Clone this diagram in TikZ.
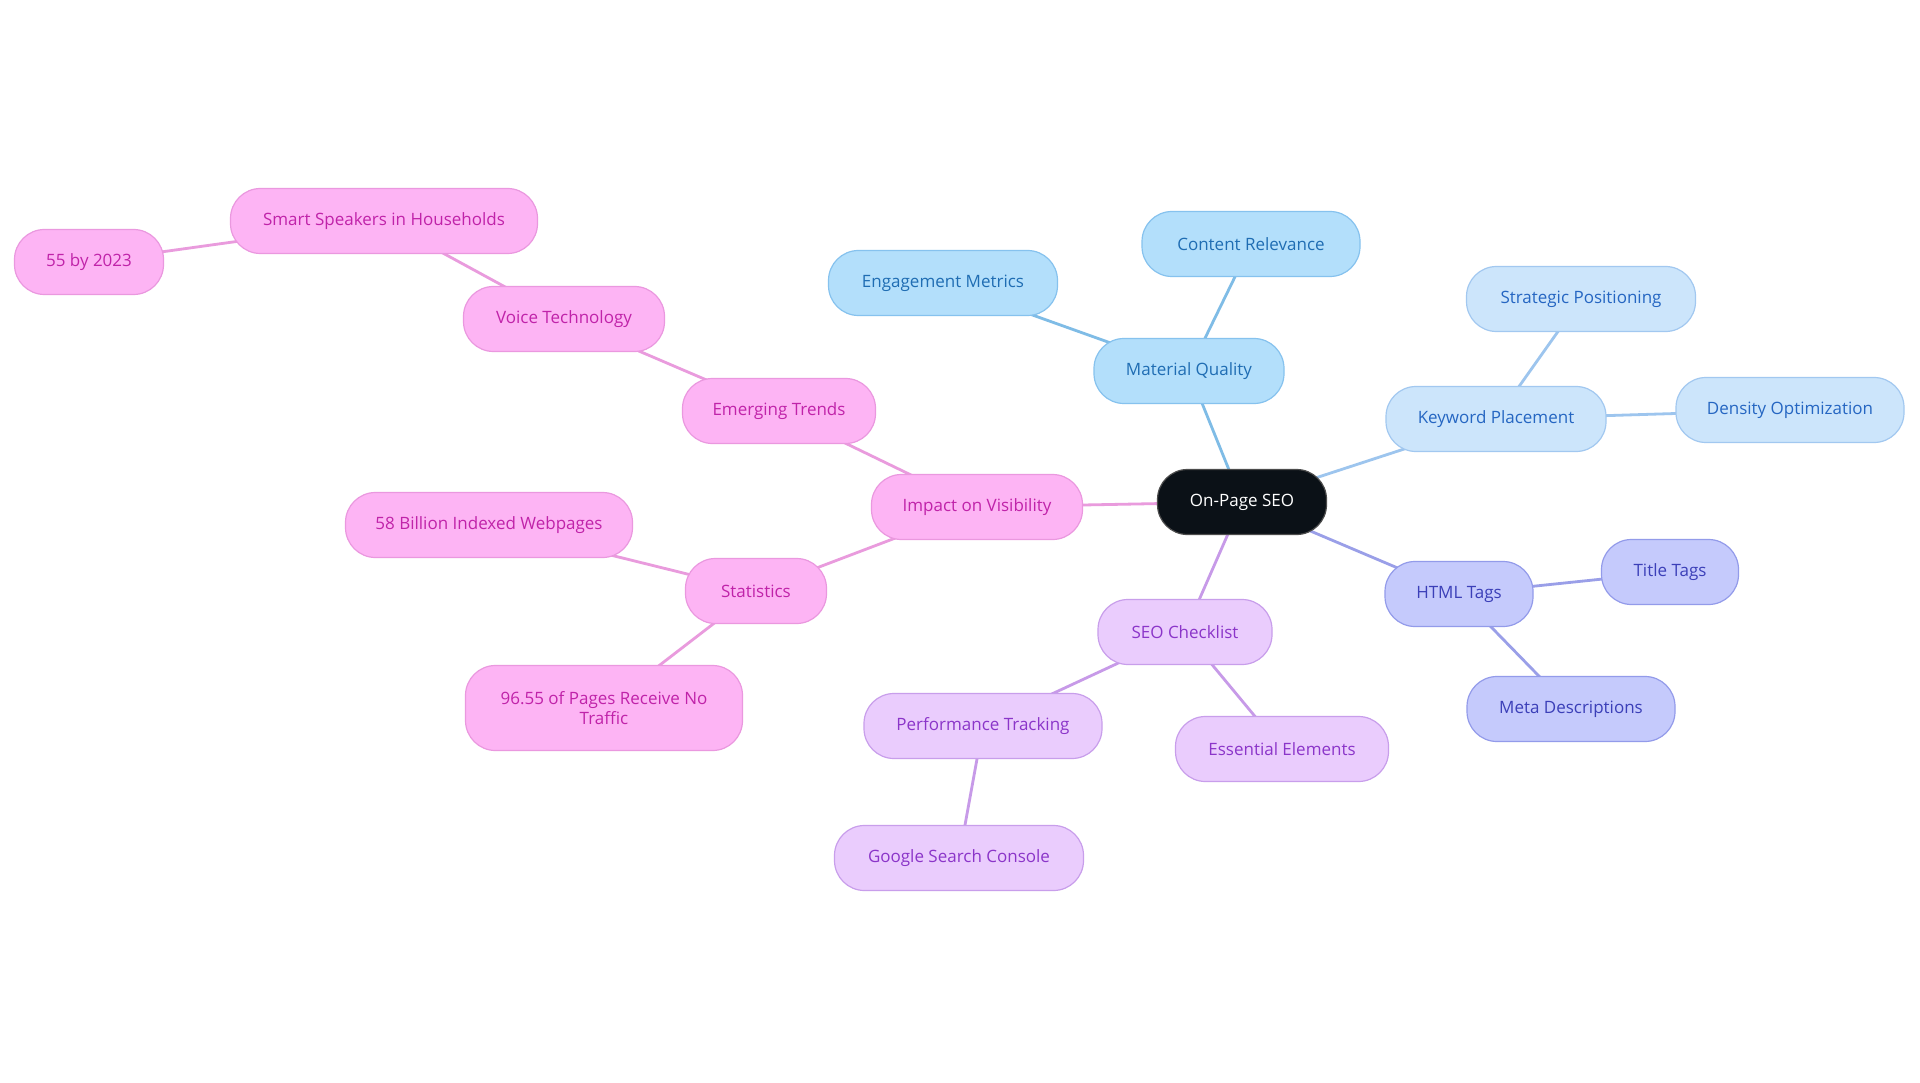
\documentclass[tikz,border=0pt]{standalone}
\usepackage{fontspec}
\setmainfont{Open Sans}
\usetikzlibrary{backgrounds}
\definecolor{mqfill}{HTML}{B3DFFB}\definecolor{mqdraw}{HTML}{86C2EE}\definecolor{mqtext}{HTML}{1F6DB3}\definecolor{mqline}{HTML}{7FBCE6}
\definecolor{kpfill}{HTML}{CCE5FB}\definecolor{kpdraw}{HTML}{A2C8F0}\definecolor{kptext}{HTML}{2566C2}\definecolor{kpline}{HTML}{9DC5EE}
\definecolor{htfill}{HTML}{C5CAFC}\definecolor{htdraw}{HTML}{939BEA}\definecolor{httext}{HTML}{3B3FB8}\definecolor{htline}{HTML}{9A9FE8}
\definecolor{scfill}{HTML}{EACCFD}\definecolor{scdraw}{HTML}{C89EEB}\definecolor{sctext}{HTML}{8B35C9}\definecolor{scline}{HTML}{C79AE8}
\definecolor{imfill}{HTML}{FDB4F4}\definecolor{imdraw}{HTML}{EA98DF}\definecolor{imtext}{HTML}{C023A9}\definecolor{imline}{HTML}{E99BDD}
\definecolor{rootfill}{HTML}{0B1117}
\tikzset{
  pill/.style={rectangle, rounded corners=30pt, minimum height=65pt, line width=1.2pt, inner sep=0pt, align=center, font=\fontsize{17}{19.5}\selectfont},
  rootnode/.style={pill, fill=rootfill, draw=gray!60!black, text=white},
  mq/.style={pill, fill=mqfill, draw=mqdraw, text=mqtext},
  kp/.style={pill, fill=kpfill, draw=kpdraw, text=kptext},
  ht/.style={pill, fill=htfill, draw=htdraw, text=httext},
  sc/.style={pill, fill=scfill, draw=scdraw, text=sctext},
  im/.style={pill, fill=imfill, draw=imdraw, text=imtext},
  link/.style={line width=2.8pt},
}
\begin{document}
\begin{tikzpicture}[x=1pt,y=-1pt]
\useasboundingbox (0,0) rectangle (1920,1083);
\node[rootnode, minimum width=169pt] (root) at (1242,502) {On-Page SEO};
\node[mq, minimum width=190pt] (mq) at (1189,371) {Material Quality};
\node[mq, minimum width=218pt] (cr) at (1251,244) {Content Relevance};
\node[mq, minimum width=229pt] (em) at (943,283) {Engagement Metrics};
\node[kp, minimum width=220pt] (kp) at (1496,419) {Keyword Placement};
\node[kp, minimum width=229pt] (sp) at (1581,299) {Strategic Positioning};
\node[kp, minimum width=228pt] (do) at (1790,410) {Density Optimization};
\node[ht, minimum width=148pt] (ht) at (1459,594) {HTML Tags};
\node[ht, minimum width=137pt] (tt) at (1670,572) {Title Tags};
\node[ht, minimum width=208pt] (md) at (1571,709) {Meta Descriptions};
\node[sc, minimum width=174pt] (sc) at (1185,632) {SEO Checklist};
\node[sc, minimum width=238pt] (pt) at (983,726) {Performance Tracking};
\node[sc, minimum width=213pt] (ee) at (1282,749) {Essential Elements};
\node[sc, minimum width=249pt] (gsc) at (959,858) {Google Search Console};
\node[im, minimum width=211pt] (iv) at (977,507) {Impact on Visibility};
\node[im, minimum width=193pt] (et) at (779,411) {Emerging Trends};
\node[im, minimum width=201pt] (vt) at (564,319) {Voice Technology};
\node[im, minimum width=307pt] (ss) at (384,221) {Smart Speakers in Households};
\node[im, minimum width=149pt] (n55) at (89,262) {55 by 2023};
\node[im, minimum width=141pt] (st) at (756,591) {Statistics};
\node[im, minimum width=287pt] (sb) at (489,525) {58 Billion Indexed Webpages};
\node[im, minimum width=277pt, minimum height=85pt] (np) at (604,708) {96.55 of Pages Receive No\\Traffic};
\begin{scope}[on background layer]
\fill[white] (0,0) rectangle (1920,1083);
\draw[link, mqline] (root.center) -- (mq.center);
\draw[link, mqline] (mq.center) -- (cr.center);
\draw[link, mqline] (mq.center) -- (em.center);
\draw[link, kpline] (root.center) -- (kp.center);
\draw[link, kpline] (kp.center) -- (sp.center);
\draw[link, kpline] (kp.center) -- (do.center);
\draw[link, htline] (root.center) -- (ht.center);
\draw[link, htline] (ht.center) -- (tt.center);
\draw[link, htline] (ht.center) -- (md.center);
\draw[link, scline] (root.center) -- (sc.center);
\draw[link, scline] (sc.center) -- (pt.center);
\draw[link, scline] (sc.center) -- (ee.center);
\draw[link, scline] (pt.center) -- (gsc.center);
\draw[link, imline] (root.center) -- (iv.center);
\draw[link, imline] (iv.center) -- (et.center);
\draw[link, imline] (et.center) -- (vt.center);
\draw[link, imline] (vt.center) -- (ss.center);
\draw[link, imline] (ss.center) -- (n55.center);
\draw[link, imline] (iv.center) -- (st.center);
\draw[link, imline] (st.center) -- (sb.center);
\draw[link, imline] (st.center) -- (np.center);
\end{scope}
\end{tikzpicture}
\end{document}
